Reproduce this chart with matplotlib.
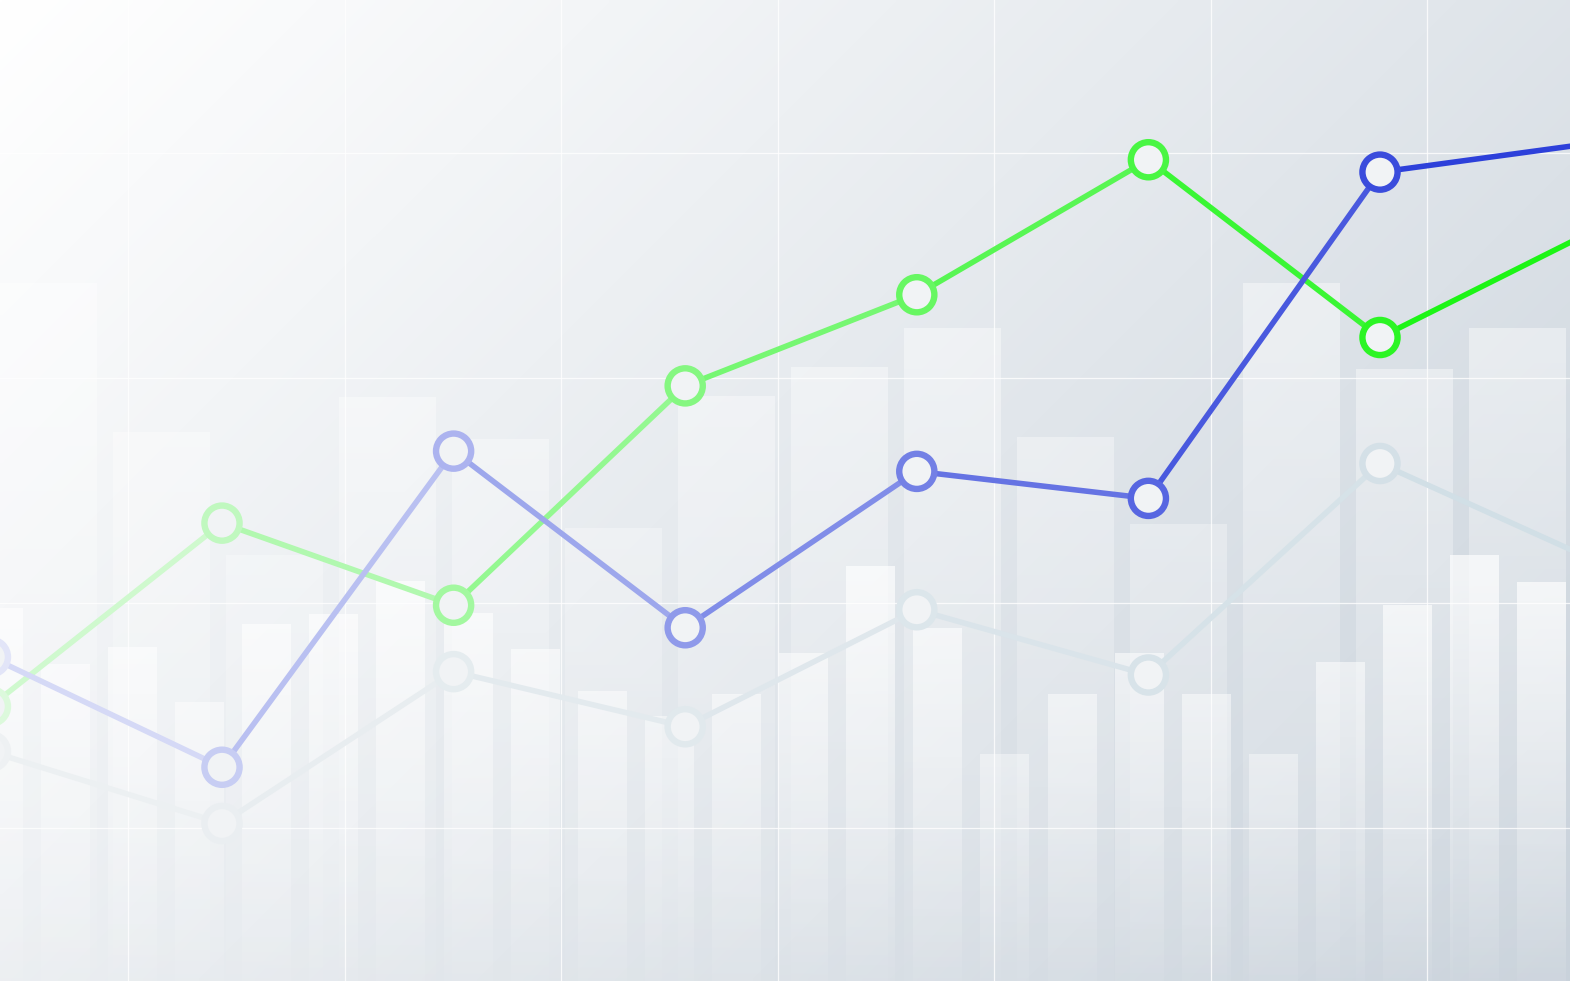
import numpy as np
import matplotlib
matplotlib.use("Agg")
import matplotlib.pyplot as plt
from matplotlib.collections import LineCollection
from matplotlib.colors import LinearSegmentedColormap, to_rgba

# --- data ---
green_vals = [30.8, 47.1, 39.8, 59.3, 67.4, 79.4, 63.6, 73.9]
blue_vals = [35.2, 25.4, 53.5, 37.8, 51.7, 49.3, 78.3, 81.1]
grey_vals = [26.8, 20.4, 33.9, 29.0, 39.4, 33.6, 52.4, 43.1]

back_bars = [68.4, 55.2, 44.3, 58.3, 54.6, 46.7, 58.4, 61.0, 64.4, 54.8,
             47.0, 68.4, 60.8, 64.4]
front_bars = [39.6, 34.6, 36.1, 31.2, 38.1, 39.0, 42.0, 39.1, 35.9, 32.2,
              30.0, 31.9, 35.6, 43.3, 37.8, 26.6, 31.9, 35.6, 31.9, 26.6,
              34.8, 39.8, 44.3, 41.9]

grid_y = [20, 40, 60, 80]

# --- layout ---
W, H = 1570, 981
YMIN, YMAX = 6.4, 93.6
pt_x = -9.6 + 231.6 * np.arange(len(green_vals))
back_x = 48 + 113 * np.arange(len(back_bars))
front_x = -1.6 + 67.1 * np.arange(len(front_bars))
grid_x = 128 + 216.5 * np.arange(7)

fig = plt.figure(figsize=(W / 100, H / 100), dpi=100)
ax = fig.add_axes([0, 0, 1, 1])
ax.set_xlim(0, W)
ax.set_ylim(YMIN, YMAX)

# background gradient, white top-left to grey-blue bottom-right
# (row 0 of the image is the top edge)
xx, yy = np.meshgrid(np.linspace(0, 1, 400), np.linspace(0, 1, 250))
t = np.clip((0.72 * xx + 0.45 * yy) / 1.17, 0, 1) ** 1.05
c0 = np.array(to_rgba("#ffffff")[:3])
c1 = np.array(to_rgba("#c9d2db")[:3])
bg = c0[None, None, :] * (1 - t[..., None]) + c1[None, None, :] * t[..., None]
ax.imshow(bg, extent=(0, W, YMIN, YMAX), aspect="auto", zorder=0,
          interpolation="bilinear")


def gradient_bars(xs, tops, width, a_top, a_bot, v_full):
    bars = ax.bar(xs, np.array(tops) - YMIN, bottom=YMIN, width=width,
                  color="none", edgecolor="none", zorder=1)
    v = np.linspace(YMAX, YMIN, 300)
    a = a_bot + (a_top - a_bot) * np.clip((v - YMIN) / (v_full - YMIN), 0, 1)
    img = np.ones((300, 1, 4))
    img[:, 0, 3] = a
    for r in bars:
        im = ax.imshow(img, extent=(0, W, YMIN, YMAX), aspect="auto",
                       zorder=1, interpolation="bilinear")
        im.set_clip_path(r)


gradient_bars(back_x, back_bars, 97, 0.42, 0.04, 62)
gradient_bars(front_x, front_bars, 49, 0.68, 0.06, 42)

# grid
ax.set_xticks(grid_x)
ax.set_yticks(grid_y)
ax.grid(True, color="white", lw=0.9, alpha=0.8)
ax.tick_params(length=0, labelbottom=False, labelleft=False)
for s in ax.spines.values():
    s.set_visible(False)


def draw_series(vals, c_start, c_end, z):
    cmap = LinearSegmentedColormap.from_list("s", [c_start, c_end])
    pts = np.column_stack([pt_x, vals])
    segs = np.stack([pts[:-1], pts[1:]], axis=1)
    mids = (pt_x[:-1] + pt_x[1:]) / 2 / W
    lc = LineCollection(segs, colors=cmap(np.clip(mids, 0, 1)), linewidths=4.0,
                        capstyle="round", zorder=z)
    ax.add_collection(lc)
    ax.scatter(pt_x, vals, s=640, facecolors="#f1f3f5",
               edgecolors=cmap(np.clip(pt_x / W, 0, 1)), linewidths=4.6,
               zorder=z + 0.5)


draw_series(grey_vals, "#eef1f3", "#d0dee5", 3)
draw_series(green_vals, "#dcf9dc", "#14f50c", 4)
draw_series(blue_vals, "#e2e5f8", "#2438d8", 5)

fig.savefig("out.png", dpi=100)
